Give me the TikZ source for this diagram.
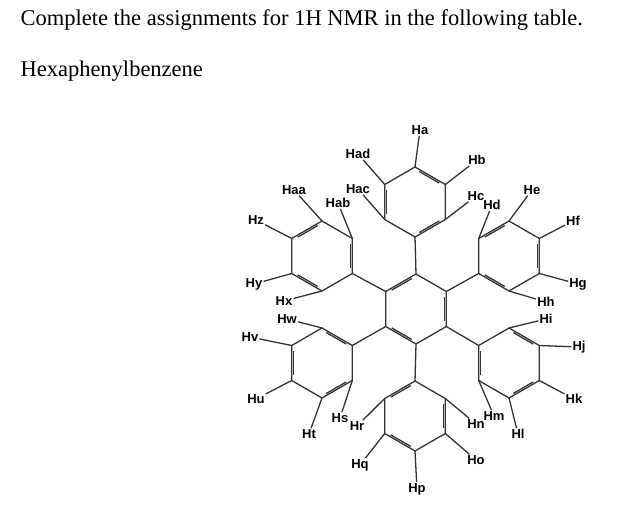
\documentclass[tikz,border=0pt]{standalone}
\usepackage{fontspec}
\setmainfont{Liberation Serif}
\newfontfamily\hfont{Liberation Sans}
\usetikzlibrary{calc}
\tikzset{bond/.style={line width=1.3pt,draw=black!80},
hl/.style={font=\hfont\bfseries\fontsize{13}{14}\selectfont,inner sep=1pt}}
% ring macro: name, cx, cy, pattern (A or B)
\newcommand\mkring[4]{%
  \coordinate (#1c) at (#2,#3);
  \coordinate (#11) at (#2,#3-35);
  \coordinate (#12) at (#2+30.3,#3-17.5);
  \coordinate (#13) at (#2+30.3,#3+17.5);
  \coordinate (#14) at (#2,#3+35);
  \coordinate (#15) at (#2-30.3,#3+17.5);
  \coordinate (#16) at (#2-30.3,#3-17.5);
  \draw[bond] (#11)--(#12)--(#13)--(#14)--(#15)--(#16)--cycle;
  \if#4A
    \foreach \a/\b in {6/1,2/3,4/5}{\draw[bond] ($(#1c)!0.8!(#1\a)!0.12!(#1c)!0.8!(#1\b)$) -- ($(#1c)!0.8!(#1\b)!0.12!(#1c)!0.8!(#1\a)$);}
  \else
    \foreach \a/\b in {1/2,3/4,5/6}{\draw[bond] ($(#1c)!0.8!(#1\a)!0.12!(#1c)!0.8!(#1\b)$) -- ($(#1c)!0.8!(#1\b)!0.12!(#1c)!0.8!(#1\a)$);}
  \fi}
\begin{document}
\begin{tikzpicture}[x=1pt,y=-1pt]
\useasboundingbox (0,0) rectangle (637,518);
\node[anchor=west,font=\fontsize{22.5}{25}\selectfont] (t1) at (17,20) {Complete the assignments for 1H NMR in the following table.};
\node[anchor=west,font=\fontsize{22.5}{25}\selectfont] (t2) at (17,71) {Hexaphenylbenzene};
\mkring{C}{416}{309}{A}
\mkring{T}{415}{202}{B}
\mkring{UL}{322}{256}{A}
\mkring{UR}{509}{256}{A}
\mkring{LL}{322}{363}{B}
\mkring{LR}{509}{363}{B}
\mkring{B}{415}{416}{A}
\draw[bond] (C1)--(T4) (C6)--(UL3) (C2)--(UR5) (C5)--(LL2) (C3)--(LR6) (C4)--(B1);
% labels
\node[hl] (Ha) at (420,130) {Ha};
\node[hl] (Hb) at (477,160) {Hb};
\node[hl] (Hc) at (476,196) {Hc};
\node[hl] (Hd) at (492,205) {Hd};
\node[hl] (Had) at (358,154) {Had};
\node[hl] (Hac) at (358,189) {Hac};
\node[hl] (He) at (532,190) {He};
\node[hl] (Hf) at (573,221) {Hf};
\node[hl] (Hg) at (578,284) {Hg};
\node[hl] (Hh) at (546,302) {Hh};
\node[hl] (Hi) at (546,319) {Hi};
\node[hl] (Hj) at (579,347) {Hj};
\node[hl] (Hk) at (574,399) {Hk};
\node[hl] (Hl) at (518,434) {Hl};
\node[hl] (Hm) at (494,416) {Hm};
\node[hl] (Hn) at (476,424) {Hn};
\node[hl] (Ho) at (476,460) {Ho};
\node[hl] (Hp) at (417,489) {Hp};
\node[hl] (Hq) at (360,465) {Hq};
\node[hl] (Hr) at (357,426) {Hr};
\node[hl] (Hs) at (340,418) {Hs};
\node[hl] (Ht) at (309,434) {Ht};
\node[hl] (Hu) at (256,399) {Hu};
\node[hl] (Hv) at (250,337) {Hv};
\node[hl] (Hw) at (287,319) {Hw};
\node[hl] (Hx) at (284,301) {Hx};
\node[hl] (Hy) at (254,284) {Hy};
\node[hl] (Hz) at (256,220) {Hz};
\node[hl] (Haa) at (294,190) {Haa};
\node[hl] (Hab) at (338,203) {Hab};
\draw[bond] (T1)--(Ha) (T2)--(Hb) (T3)--(Hc) (T6)--(Had) (T5)--(Hac)
 (UR6)--(Hd) (UR1)--(He) (UR2)--(Hf) (UR3)--(Hg) (UR4)--(Hh)
 (LR1)--(Hi) (LR2)--(Hj) (LR3)--(Hk) (LR4)--(Hl) (LR5)--(Hm)
 (B2)--(Hn) (B3)--(Ho) (B4)--(Hp) (B5)--(Hq) (B6)--(Hr)
 (LL3)--(Hs) (LL4)--(Ht) (LL5)--(Hu) (LL6)--(Hv) (LL1)--(Hw)
 (UL4)--(Hx) (UL5)--(Hy) (UL6)--(Hz) (UL1)--(Haa) (UL2)--(Hab);
\end{tikzpicture}
\end{document}
